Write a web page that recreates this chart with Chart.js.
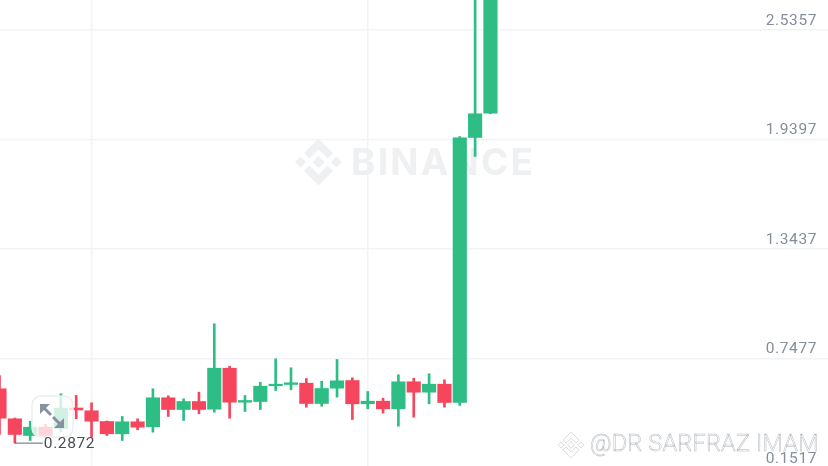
<!DOCTYPE html>
<html>
<head>
<meta charset="utf-8">
<style>
  html, body { margin: 0; padding: 0; background: #fff; overflow: hidden; }
  #box { position: relative; width: 828px; height: 468px; }
</style>
<script src="https://cdn.jsdelivr.net/npm/chart.js@4"></script>
</head>
<body>
<div id="box"><canvas id="chart" width="828" height="468"></canvas></div>
<script>
// du lieu nen doc tu hinh
const opens  = [0.5829,0.4195,0.3286,0.3738,0.3667,0.4783,0.4631,0.4048,0.3379,0.4032,0.3760,0.5339,0.4702,0.5137,0.4718,0.6950,0.5099,0.5137,0.5992,0.6063,0.6134,0.5028,0.5861,0.6280,0.5012,0.5154,0.4740,0.6210,0.5644,0.6079,0.5083,1.9509,2.0832];
const closes = [0.4228,0.3341,0.3738,0.3286,0.4773,0.4675,0.4065,0.3379,0.4032,0.3738,0.5339,0.4702,0.5137,0.4702,0.6950,0.5099,0.5192,0.5970,0.6079,0.6155,0.5028,0.5845,0.6264,0.5012,0.5154,0.4740,0.6210,0.5644,0.6079,0.5083,1.9493,2.0800,3.2000];
const highs  = [0.6553,0.4239,0.4065,0.3885,0.5557,0.5464,0.5067,0.4076,0.4321,0.4195,0.5829,0.5448,0.5284,0.5644,0.9367,0.7059,0.5464,0.6188,0.7462,0.6972,0.6389,0.6242,0.7424,0.6427,0.5682,0.5317,0.6591,0.6406,0.6645,0.6319,1.9564,3.0000,3.2000];
const lows   = [0.3341,0.2872,0.3014,0.3177,0.3504,0.4195,0.3194,0.3286,0.3014,0.3597,0.3466,0.4321,0.4103,0.4468,0.4555,0.4228,0.4593,0.4702,0.5736,0.5774,0.4827,0.4881,0.5371,0.4157,0.4740,0.4500,0.3793,0.4283,0.5012,0.4827,0.4920,1.8475,2.0800];
const yTicks = [0.1517, 0.7477, 1.3437, 1.9397, 2.5357];
const xGrid  = [6, 24];
const lowIndex = 1;

const GREEN = '#2ebd85';
const RED = '#f6465d';
const candleColors = closes.map((c, i) => c >= opens[i] ? GREEN : RED);

const bodies = opens.map((o, i) => ({ x: i, y: [o, closes[i]] }));
const wicks = highs.map((h, i) => ({ x: i, y: [lows[i], h] }));

// ve logo binance tai (cx, cy), s la ti le
function logoPath(c, cx, cy, s) {
  const shapes = [
    [[0,-23.5],[14.5,-9],[9,-3.5],[0,-12.5],[-9,-3.5],[-14.5,-9]],
    [[0,23.5],[14.5,9],[9,3.5],[0,12.5],[-9,3.5],[-14.5,9]],
    [[-23.5,0],[-18,-5.5],[-12.5,0],[-18,5.5]],
    [[23.5,0],[18,-5.5],[12.5,0],[18,5.5]],
    [[0,-6],[6,0],[0,6],[-6,0]]
  ];
  c.beginPath();
  shapes.forEach(p => {
    p.forEach((q, i) => {
      if (i === 0) c.moveTo(cx + q[0] * s, cy + q[1] * s);
      else c.lineTo(cx + q[0] * s, cy + q[1] * s);
    });
    c.closePath();
  });
}

// watermark, icon phong to va nhan gia thap nhat
const overlay = {
  id: 'overlay',
  beforeDraw(chart) {
    chart.ctx.letterSpacing = '0.6px';
  },
  beforeDatasetsDraw(chart) {
    const c = chart.ctx;
    c.save();
    c.fillStyle = '#eef0f2';
    logoPath(c, 318.5, 162, 1);
    c.fill();
    c.letterSpacing = '2.2px';
    c.font = 'bold 37px Inter';
    c.textBaseline = 'middle';
    c.fillText('BINANCE', 351, 163.5);
    c.restore();
  },
  afterDatasetsDraw(chart) {
    const c = chart.ctx;
    const xs = chart.scales.x, ys = chart.scales.y;

    // o icon mo rong
    c.save();
    c.fillStyle = 'rgba(255,255,255,0.78)';
    c.strokeStyle = '#eceef0';
    c.lineWidth = 1.5;
    c.beginPath();
    c.roundRect(32, 396, 41, 41, 9);
    c.fill();
    c.stroke();
    c.strokeStyle = c.fillStyle = '#8a919e';
    c.lineWidth = 3;
    [[-1, -1], [1, 1]].forEach(d => {
      const tx = 52 + d[0] * 12, ty = 416 + d[1] * 12;
      c.beginPath();
      c.moveTo(52 + d[0] * 1, 416 + d[1] * 1);
      c.lineTo(tx - d[0] * 3, ty - d[1] * 3);
      c.stroke();
      c.beginPath();
      c.moveTo(tx, ty);
      c.lineTo(tx - d[0] * 10, ty);
      c.lineTo(tx, ty - d[1] * 10);
      c.closePath();
      c.fill();
    });
    c.restore();

    // duong noi va nhan low
    const lx = xs.getPixelForValue(lowIndex), ly = ys.getPixelForValue(lows[lowIndex]);
    c.save();
    c.strokeStyle = '#5e6673';
    c.lineWidth = 1;
    c.beginPath();
    c.moveTo(lx, ly);
    c.lineTo(lx + 28, ly);
    c.stroke();
    c.fillStyle = '#474d57';
    c.font = '15.5px Roboto';
    c.textBaseline = 'middle';
    c.fillText('0.2872', lx + 29, ly + 1);
    c.restore();

    // watermark goc duoi
    c.save();
    c.strokeStyle = '#b4b8bd';
    c.lineWidth = 0.5;
    c.letterSpacing = '0.2px';
    c.font = '300 23.5px Roboto';
    c.textBaseline = 'middle';
    c.strokeText('@DR SARFRAZ IMAM', 590, 445);
    logoPath(c, 571, 445, 0.55);
    c.stroke();
    c.restore();
  }
};

new Chart(document.getElementById('chart').getContext('2d'), {
  type: 'bar',
  data: {
    datasets: [
      {
        label: 'body',
        data: bodies,
        backgroundColor: candleColors,
        barThickness: 13.5,
        grouped: false,
        order: 1
      },
      {
        label: 'wick',
        data: wicks,
        backgroundColor: candleColors,
        barThickness: 2,
        grouped: false,
        order: 2
      }
    ]
  },
  options: {
    responsive: false,
    animation: false,
    layout: { padding: 0, autoPadding: false },
    plugins: { legend: { display: false }, tooltip: { enabled: false } },
    scales: {
      x: {
        type: 'linear',
        min: 0.033,
        max: 54,
        offset: false,
        afterBuildTicks(axis) { axis.ticks = xGrid.map(v => ({ value: v })); },
        ticks: { display: false },
        border: { display: false },
        grid: { color: '#f2f3f4', lineWidth: 1.5, drawTicks: false, offset: false }
      },
      y: {
        position: 'right',
        min: 0.1517,
        max: 2.6993,
        afterBuildTicks(axis) { axis.ticks = yTicks.map(v => ({ value: v })); },
        afterFit(axis) {
          // truc nam trong vung ve, khong chiem cho
          axis.width = 0;
          axis.paddingTop = 0;
          axis.paddingBottom = 0;
        },
        ticks: {
          mirror: true,
          padding: -11,
          labelOffset: -9,
          autoSkip: false,
          z: 1,
          color: '#848e9c',
          font: { family: 'Roboto', size: 15.5 },
          callback: v => v.toFixed(4)
        },
        border: { display: false },
        grid: { color: '#f2f3f4', lineWidth: 1.5, drawTicks: false, z: -1 }
      }
    }
  },
  plugins: [overlay]
});
</script>
</body>
</html>
